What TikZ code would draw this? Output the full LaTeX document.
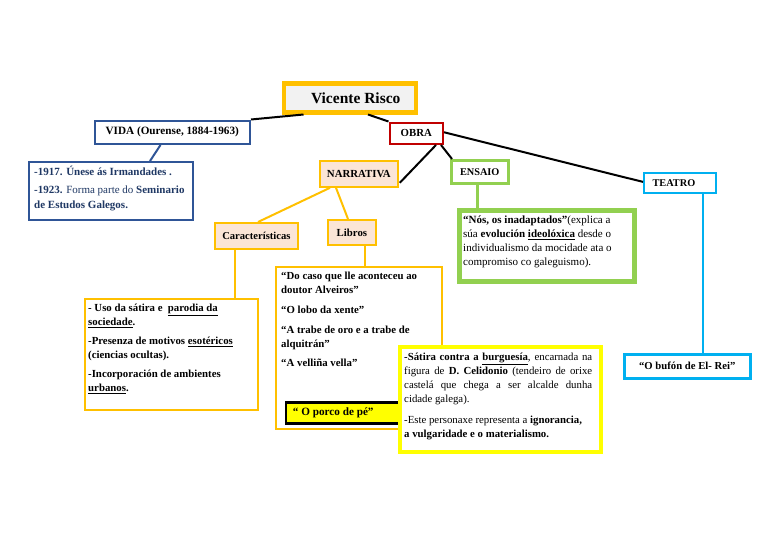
\documentclass[tikz,border=0pt]{standalone}
\usepackage{fontspec}
\setmainfont{Liberation Serif}
\usetikzlibrary{calc}
\definecolor{gold}{HTML}{FFC000}
\definecolor{peach}{HTML}{FBE5D6}
\definecolor{vblue}{HTML}{2F5597}
\definecolor{navy}{HTML}{1F3864}
\definecolor{obred}{HTML}{C00000}
\definecolor{egreen}{HTML}{92D050}
\definecolor{tcyan}{HTML}{00B0F0}
\definecolor{yel}{HTML}{FFFF00}
\definecolor{rfill}{HTML}{F2F2F2}
\tikzset{
  bx/.style={draw, rectangle, inner sep=0pt, anchor=north west, font=\fontsize{10.8}{12}\selectfont\bfseries},
  txt/.style={anchor=north west, inner sep=0pt, align=left, font=\fontsize{10.8}{14}\selectfont\bfseries},
  conn/.style={line width=2pt, black},
}
\begin{document}
\begin{tikzpicture}[x=1pt,y=-1pt]
\useasboundingbox (0,0) rectangle (768,543);
% boxes
\node[bx, draw=gold, line width=4.5pt, fill=rfill, minimum width=132, minimum height=29, font=\fontsize{15.5}{17}\selectfont\bfseries] (risco) at (281.5,81) {\hspace*{12pt}Vicente Risco};
\node[bx, draw=vblue, line width=2.5pt, fill=white, minimum width=155, minimum height=23, font=\fontsize{11.2}{12}\selectfont\bfseries] (vida) at (93.5,119.5) {VIDA (Ourense, 1884-1963)};
\node[bx, draw=obred, line width=2.5pt, fill=white, minimum width=53, minimum height=21] (obra) at (388.5,121.5) {OBRA};
\node[bx, draw=vblue, line width=1.8pt, fill=white, minimum width=164, minimum height=58] (vidad) at (28,161) {};
\node[bx, draw=gold, line width=1.8pt, fill=peach, minimum width=78, minimum height=26] (narr) at (319,160) {NARRATIVA};
\node[bx, draw=egreen, line width=2.5pt, fill=white, minimum width=57, minimum height=23, font=\fontsize{10.3}{12}\selectfont\bfseries] (ensaio) at (450,159) {ENSAIO};
\node[bx, draw=tcyan, line width=1.8pt, fill=white, minimum width=72, minimum height=20, font=\fontsize{10.3}{12}\selectfont\bfseries] (teatro) at (643,172) {\hspace*{-12pt}TEATRO};
\node[bx, draw=gold, line width=1.8pt, fill=peach, minimum width=83, minimum height=26, font=\fontsize{10.6}{12}\selectfont\bfseries] (carac) at (214,222) {Características};
\node[bx, draw=gold, line width=1.8pt, fill=peach, minimum width=48, minimum height=25] (libros) at (327,219) {Libros};
\node[bx, draw=egreen, line width=4.5pt, fill=white, minimum width=175, minimum height=71] (ensd) at (457,208) {};
\node[bx, draw=gold, line width=1.8pt, fill=white, minimum width=173, minimum height=111] (card) at (84,298) {};
\node[bx, draw=gold, line width=1.8pt, fill=white, minimum width=166, minimum height=162] (libd) at (275,266) {};
\node[bx, draw=black, line width=2.5pt, fill=yel, minimum width=113, minimum height=21, font=\fontsize{11.2}{12}\selectfont\bfseries] (porco) at (284.5,401) {\hspace*{-18pt}“ O porco de pé”};
\node[bx, draw=yel, line width=4.5pt, fill=white, minimum width=201, minimum height=105] (yeld) at (397.5,344.5) {};
\node[bx, draw=tcyan, line width=2.5pt, fill=white, minimum width=126, minimum height=24, font=\fontsize{10.7}{12}\selectfont\bfseries] (bufon) at (623,353) {“O bufón de El- Rei”};
% connectors
\draw[conn] ($(risco.south west)+(22,0)$) -- (vida.north east);
\draw[conn] ($(risco.south east)+(-50,0)$) -- (obra.north west);
\draw[conn] ($(obra.south east)+(-8,0)$) -- ($(narr.south east)+(1,-5)$);
\draw[conn] ($(obra.south east)+(-3,0)$) -- ($(ensaio.north west)+(2,0)$);
\draw[conn] ($(obra.east)+(0,-1)$) -- ($(teatro.west)+(0,-1)$);
\draw[vblue, line width=2pt] ($(vida.south west)+(67,0)$) -- ($(vidad.north west)+(122,0)$);
\draw[gold, line width=2pt] ($(narr.south west)+(11,0)$) -- ($(carac.north west)+(44,0)$);
\draw[gold, line width=2pt] ($(narr.south west)+(17,0)$) -- ($(libros.north west)+(21,0)$);
\draw[gold, line width=2pt] ($(carac.south west)+(21,0)$) -- ($(card.north west)+(151,0)$);
\draw[gold, line width=2pt] ($(libros.south west)+(38,0)$) -- ($(libd.north west)+(90,0)$);
\draw[egreen, line width=3pt] ($(ensaio.south west)+(27,0)$) -- ($(ensd.north west)+(20,0)$);
\draw[tcyan, line width=2pt] ($(teatro.south west)+(60,0)$) -- ($(bufon.north west)+(80,0)$);
% texts
\node[txt, text=navy, font=\fontsize{11}{15.5}\selectfont] (vidat) at (34,166) {\textbf{-1917. Únese ás Irmandades .}\\[2pt]\textbf{-1923.} Forma parte do \textbf{Seminario}\\\textbf{de Estudos Galegos.}};
\node[txt, font=\fontsize{11}{14}\selectfont] (enst) at (463,215.5) {\textbf{“Nós, os inadaptados”}(explica a\\súa \textbf{evolución \underline{ideolóxica}} desde o\\individualismo da mocidade ata o\\compromiso co galeguismo).};
\node[txt] (cart) at (88,304) {- Uso da sátira e \ \underline{parodia da}\\\underline{sociedade}.\\[5pt]-Presenza de motivos \underline{esotéricos}\\(ciencias ocultas).\\[5pt]-Incorporación de ambientes\\\underline{urbanos}.};
\node[txt] (libt) at (281,272) {“Do caso que lle aconteceu ao\\doutor Alveiros”\\[6pt]“O lobo da xente”\\[6pt]“A trabe de oro e a trabe de\\alquitrán”\\[5pt]“A velliña vella”};
\node[anchor=north west, inner sep=0pt, text width=188pt, align=justify, font=\fontsize{10.8}{14}\selectfont] (yelt) at (404,353) {\textbf{-Sátira contra a \underline{burguesía}}, encarnada na\linebreak figura de \textbf{D. Celidonio} (tendeiro de orixe\linebreak castelá que chega a ser alcalde dunha\linebreak cidade galega).\par\vspace{7pt}\raggedright -Este personaxe representa a \textbf{ignorancia,}\\\textbf{a vulgaridade e o materialismo.}};
\end{tikzpicture}
\end{document}
